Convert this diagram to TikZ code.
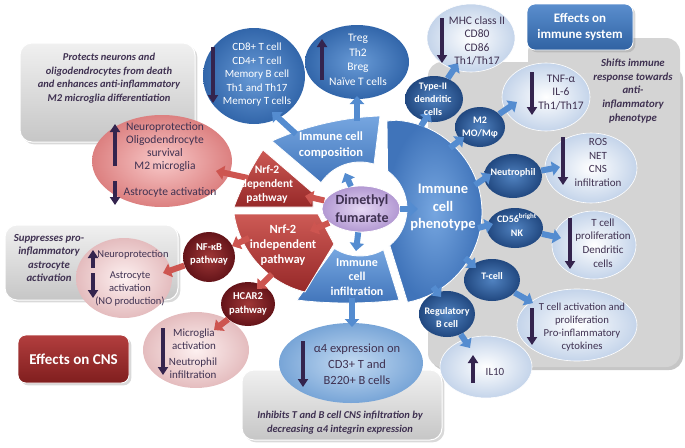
\documentclass[tikz,border=0pt]{standalone}
\usepackage{fontspec}
\setmainfont{Carlito}
\usetikzlibrary{arrows.meta,shapes.geometric,shadows,calc}

\definecolor{txt}{RGB}{63,49,81}
\definecolor{apurple}{RGB}{52,36,78}
\definecolor{blA}{RGB}{118,166,224}
\definecolor{blB}{RGB}{64,116,186}
\definecolor{dbA}{RGB}{80,130,192}
\definecolor{dbB}{RGB}{33,72,128}
\definecolor{mbA}{RGB}{104,154,214}
\definecolor{mbB}{RGB}{50,102,170}
\definecolor{ltB}{RGB}{196,212,234}
\definecolor{a4A}{RGB}{195,218,242}
\definecolor{a4B}{RGB}{120,165,215}
\definecolor{rdA}{RGB}{205,90,85}
\definecolor{rdB}{RGB}{150,40,40}
\definecolor{drA}{RGB}{160,55,55}
\definecolor{drB}{RGB}{100,20,25}
\definecolor{pkA}{RGB}{248,200,200}
\definecolor{pkB}{RGB}{220,128,128}
\definecolor{lpA}{RGB}{253,240,240}
\definecolor{lpB}{RGB}{228,188,190}
\definecolor{dmA}{RGB}{230,216,244}
\definecolor{dmB}{RGB}{178,152,210}
\definecolor{gyA}{RGB}{240,240,240}
\definecolor{gyB}{RGB}{198,198,198}
\definecolor{panelc}{RGB}{212,212,212}
\definecolor{barrc}{RGB}{84,140,208}
\definecolor{rarrc}{RGB}{205,85,80}
\definecolor{cnsA}{RGB}{178,62,62}
\definecolor{cnsB}{RGB}{128,30,30}
\definecolor{imA}{RGB}{90,142,206}
\definecolor{imB}{RGB}{48,98,162}

\newcommand\myfs[2]{\fontsize{#1}{#2}\selectfont}

\begin{document}
\begin{tikzpicture}[x=1pt,y=-1pt,
  every node/.style={inner sep=0pt},
  medell/.style={ellipse, inner color=mbA, outer color=mbB},
  lightell/.style={ellipse, inner color=white, outer color=ltB, draw=white, line width=0.6pt},
  pinkell/.style={ellipse, inner color=pkA, outer color=pkB},
  lpinkell/.style={ellipse, inner color=lpA, outer color=lpB},
  darkcirc/.style={ellipse, inner color=dbA, outer color=dbB},
  redcirc/.style={ellipse, inner color=drA, outer color=drB},
  graybox/.style={rectangle, rounded corners=12pt, top color=gyA, bottom color=gyB, draw=white, line width=1pt, drop shadow={opacity=0.3}},
  wt/.style={text=white, align=center},
  pt/.style={text=txt, align=center},
  barr/.style={draw=barrc, line width=6pt, -{Triangle[length=8pt,width=14pt]}},
  rarr/.style={draw=rarrc, line width=6pt, -{Triangle[length=8pt,width=14pt]}},
  parr/.style={draw=apurple, line width=3.2pt, -{Triangle[length=8pt,width=10pt]}}
]
\useasboundingbox (0,0) rectangle (685,447);

% right gray panel
\fill[gray!45, rounded corners=14pt] (431,66) rectangle (683,370);
\fill[panelc, rounded corners=14pt] (428,62) rectangle (680,367);
\fill[panelc, rounded corners=14pt] (528,38) rectangle (680,120);

% gray boxes
\node[graybox, minimum width=175pt, minimum height=99pt] (g1) at (107.5,92.5) {};
\node[graybox, minimum width=173pt, minimum height=75pt] (g2) at (91.5,262.5) {};
\node[graybox, minimum width=200pt, minimum height=70pt] (g3) at (342,405) {};

% big ellipses
\node[medell, minimum width=102pt, minimum height=96pt] (cd8) at (254,76) {};
\node[medell, minimum width=104pt, minimum height=74pt] (treg) at (357,62) {};
\node[pinkell, minimum width=140pt, minimum height=92pt] (pinkbig) at (162,161) {};
\node[lpinkell, minimum width=96pt, minimum height=80pt] (pinksm) at (124,278) {};
\node[lpinkell, minimum width=106pt, minimum height=76pt] (micro) at (196,350) {};
\node[ellipse, inner color=a4A, outer color=a4B, minimum width=144pt, minimum height=80pt] (a4) at (351,363) {};
\node[lightell, minimum width=88pt, minimum height=68pt] (mhc) at (471,38) {};
\node[lightell, minimum width=88pt, minimum height=68pt] (tnf) at (546,97) {};
\node[lightell, minimum width=92pt, minimum height=70pt] (ros) at (591,168) {};
\node[lightell, minimum width=84pt, minimum height=68pt] (tprol) at (594,245) {};
\node[lightell, minimum width=120pt, minimum height=72pt] (tact) at (577,325) {};
\node[lightell, minimum width=92pt, minimum height=62pt] (il10) at (486,367) {};

% ring sectors
\shade[inner color=blA, outer color=blB, draw=white, line width=0.8pt]
  (387,121) -- plot[domain=-86:79, samples=40] ({390+92*cos(\x)},{212+92*sin(\x)})
  -- (390,246) -- plot[domain=52:-54, samples=30] ({360+47*cos(\x)},{209+47*sin(\x)}) -- cycle;
\shade[top color=blA, bottom color=blB, draw=white, line width=0.8pt]
  (272,141) .. controls (305,126) and (345,117) .. (380,116) -- (374,164)
  -- plot[domain=-72:-146, samples=30] ({360+47*cos(\x)},{209+47*sin(\x)}) -- cycle;
\shade[top color=blA, bottom color=blB, draw=white, line width=0.8pt]
  plot[domain=123:60, samples=30] ({360+47*cos(\x)},{209+47*sin(\x)})
  -- (399,300) .. controls (366,304) and (328,304) .. (297,300) -- cycle;
\shade[top color=rdA, bottom color=rdB, draw=white, line width=0.8pt]
  (263,150) -- (313,193) -- (313,207) -- (234,207) .. controls (242,186) and (252,166) .. (263,150) -- cycle;
\shade[top color=rdA, bottom color=rdB, draw=white, line width=0.8pt]
  (234,214) -- (318,214) -- (334,244) -- (305,292) .. controls (268,283) and (240,252) .. (234,214) -- cycle;

% small circles
\node[redcirc, minimum width=52pt, minimum height=50pt] (nfkb) at (209,257) {};
\node[redcirc, minimum width=54pt, minimum height=44pt] (hcar) at (248,304) {};
\node[darkcirc, minimum width=58pt, minimum height=46pt] (type2) at (434,99) {};
\node[darkcirc, minimum width=50pt, minimum height=40pt] (m2) at (480,127) {};
\node[darkcirc, minimum width=58pt, minimum height=44pt] (neut) at (513,176) {};
\node[darkcirc, minimum width=56pt, minimum height=40pt] (cd56) at (515,228) {};
\node[darkcirc, minimum width=56pt, minimum height=42pt] (tcell) at (492,280) {};
\node[darkcirc, minimum width=56pt, minimum height=46pt] (regb) at (447,314) {};

% DMF
\node[ellipse, inner color=dmA, outer color=dmB, draw=white, line width=0.8pt, minimum width=78pt, minimum height=46pt] (dmf) at (361,209) {};

% connector coordinates
\coordinate (c1s) at (296,134); \coordinate (c1e) at (272,112);
\coordinate (c2s) at (357,121); \coordinate (c2e) at (357,96);
\coordinate (dup) at (345,173);
\coordinate (dright) at (418,209);
\coordinate (ddown) at (356,251);
\coordinate (i1s) at (352,298); \coordinate (i1e) at (352,327);
\coordinate (p1s) at (421,126); \coordinate (p1e) at (430,112);
\coordinate (t2e) at (458,63);
\coordinate (p2s) at (450,148); \coordinate (p2e) at (464,137);
\coordinate (m2e) at (517,102);
\coordinate (p3s) at (475,185); \coordinate (p3e) at (491,174);
\coordinate (ne) at (560,167);
\coordinate (p4s) at (478,228); \coordinate (p4e) at (493,224);
\coordinate (cde) at (561,238);
\coordinate (p5s) at (465,258); \coordinate (p5e) at (476,268);
\coordinate (tce) at (533,303);
\coordinate (p6s) at (433,287); \coordinate (p6e) at (441,297);
\coordinate (rbe) at (470,348);
\coordinate (dleft) at (305,196);
\coordinate (dll) at (310,231);
\coordinate (r1s) at (248,178); \coordinate (r1e) at (216,171);
\coordinate (r2s) at (249,238); \coordinate (r2e) at (232,246);
\coordinate (r3s) at (272,274); \coordinate (r3e) at (257,289);
\coordinate (nfe) at (163,273);
\coordinate (hce) at (214,330);

% blue connectors
\draw[barr] (c1s) -- (c1e);
\draw[barr] (c2s) -- (c2e);
\draw[barr] (dmf) -- (dup);
\draw[barr] (dmf) -- (dright);
\draw[barr] (dmf) -- (ddown);
\draw[barr] (i1s) -- (i1e);
\draw[barr] (p1s) -- (p1e);
\draw[barr] (type2) -- (t2e);
\draw[barr] (p2s) -- (p2e);
\draw[barr] (m2) -- (m2e);
\draw[barr] (p3s) -- (p3e);
\draw[barr] (neut) -- (ne);
\draw[barr] (p4s) -- (p4e);
\draw[barr] (cd56) -- (cde);
\draw[barr] (p5s) -- (p5e);
\draw[barr] (tcell) -- (tce);
\draw[barr] (p6s) -- (p6e);
\draw[barr] (regb) -- (rbe);
% red connectors
\draw[rarr] (dmf) -- (dleft);
\draw[rarr] (dmf) -- (dll);
\draw[rarr] (r1s) -- (r1e);
\draw[rarr] (r2s) -- (r2e);
\draw[rarr] (r3s) -- (r3e);
\draw[rarr] (nfkb) -- (nfe);
\draw[rarr] (hcar) -- (hce);

% purple arrows
\draw[parr] (213,47) -- (213,103);
\draw[parr] (322,80) -- (322,39);
\draw[parr] (115,166) -- (115,124);
\draw[parr] (115,181) -- (115,205);
\draw[parr] (93,268) -- (93,250);
\draw[parr] (93,273) -- (93,298);
\draw[parr] (163,328) -- (163,375);
\draw[parr] (303,341) -- (303,387);
\draw[parr] (442,18) -- (442,63);
\draw[parr] (532,72) -- (532,115);
\draw[parr] (563,137) -- (563,185);
\draw[parr] (570,218) -- (570,269);
\draw[parr] (532,308) -- (532,345);
\draw[parr] (473,383) -- (473,355);

% labeled boxes
\node[rectangle, rounded corners=8pt, top color=cnsA, bottom color=cnsB, draw=white, line width=0.8pt, drop shadow={opacity=0.3}, minimum width=111pt, minimum height=48pt, wt, font=\bfseries\myfs{15}{18}] (cns) at (73.5,359) {Effects on CNS};
\node[rectangle, rounded corners=8pt, top color=imA, bottom color=imB, draw=white, line width=0.8pt, drop shadow={opacity=0.3}, minimum width=106pt, minimum height=46pt, wt, font=\bfseries\myfs{13}{16}] (imm) at (580,27) {Effects on\\immune system};

% texts
\node[pt, font=\bfseries\itshape\myfs{10.5}{13.6}] (g1t) at (109,78) {Protects neurons and\\oligodendrocytes from death\\and enhances anti-inflammatory\\M2 microglia differentiation};
\node[pt, font=\bfseries\itshape\myfs{10.8}{13.6}] (g2t) at (49,258) {Suppresses pro-\\inflammatory\\astrocyte\\activation};
\node[pt, font=\bfseries\itshape\myfs{10.5}{14}] (g3t) at (340,423) {Inhibits T and B cell CNS infiltration by\\decreasing α4 integrin expression};
\node[pt, font=\bfseries\itshape\myfs{10.8}{13.7}] (sht) at (633,91) {Shifts immune\\response towards\\anti-\\inflammatory\\phenotype};

\node[wt, font=\myfs{11}{13.5}] (cd8t) at (257,75) {CD8+ T cell\\CD4+ T cell\\Memory B cell\\Th1 and Th17\\Memory T cells};
\node[wt, font=\myfs{11.5}{14.5}] (tregt) at (358,60) {Treg\\Th2\\Breg\\Naïve T cells};
\node[pt, font=\myfs{11.5}{13}] (pbt) at (165,147.5) {Neuroprotection\\Oligodendrocyte\\survival\\M2 microglia};
\node[pt, font=\myfs{11.5}{13}] (pbt2) at (170,192) {Astrocyte activation};
\node[pt, font=\myfs{10.5}{13}] (pst1) at (133,255) {Neuroprotection};
\node[pt, font=\myfs{10.5}{13}] (pst2) at (130,289) {Astrocyte\\activation\\(NO production)};
\node[pt, font=\myfs{11}{13}] (mit1) at (194,339.5) {Microglia\\activation};
\node[pt, font=\myfs{11}{13}] (mit2) at (193,368.5) {Neutrophil\\infiltration};
\node[wt, font=\bfseries\myfs{10.5}{13}] (nfkbt) at (209,254.5) {NF-κB\\pathway};
\node[wt, font=\bfseries\myfs{10.5}{14}] (hcart) at (248,304) {HCAR2\\pathway};
\node[pt, font=\myfs{12.5}{16}] (a4t) at (357,364) {α4 expression on\\CD3+ T and\\B220+ B cells};

\node[wt, font=\bfseries\myfs{12.5}{16}] (compt) at (331,145) {Immune cell\\composition};
\node[wt, font=\bfseries\myfs{11.5}{14}] (nrf1t) at (267,184) {Nrf-2\\dependent\\pathway};
\node[wt, font=\bfseries\myfs{12.5}{15}] (nrf2t) at (283,245) {Nrf-2\\independent\\pathway};
\node[wt, font=\bfseries\myfs{12}{14.5}] (inft) at (357,277) {Immune\\cell\\infiltration};
\node[wt, font=\bfseries\myfs{14.5}{17.5}] (phent) at (443,207.5) {Immune\\cell\\phenotype};
\node[pt, font=\bfseries\myfs{14}{18}] (dmft) at (362,209) {Dimethyl\\fumarate};

\node[pt, font=\myfs{11.5}{13.5}] (mhct) at (477,41) {MHC class II\\CD80\\CD86\\Th1/Th17};
\node[pt, font=\myfs{11.5}{13.5}] (tnft) at (561,92.5) {TNF-α\\IL-6\\Th1/Th17};
\node[pt, font=\myfs{11}{13.7}] (rost) at (598,162.5) {ROS\\NET\\CNS\\infiltration};
\node[pt, font=\myfs{11}{13.8}] (tprolt) at (603,243) {T cell\\proliferation\\Dendritic\\cells};
\node[pt, font=\myfs{10.7}{13}] (tactt) at (582,327.5) {T cell activation and\\proliferation\\Pro-inflammatory\\cytokines};
\node[pt, font=\myfs{11}{13}] (il10t) at (495,372) {IL10};

\node[wt, font=\bfseries\myfs{10}{13}] (type2t) at (433,99) {Type-II\\dendritic\\cells};
\node[wt, font=\bfseries\myfs{10}{13}] (m2t) at (480,127.5) {M2\\MO/Mφ};
\node[wt, font=\bfseries\myfs{10}{13}] (neutt) at (513,173) {Neutrophil};
\node[wt, font=\bfseries\myfs{10}{14}] (cd56t) at (517,225) {CD56\textsuperscript{bright}\\NK};
\node[wt, font=\bfseries\myfs{10}{13}] (tcellt) at (492,276) {T-cell};
\node[wt, font=\bfseries\myfs{10}{13}] (regbt) at (447,317.5) {Regulatory\\B cell};
\end{tikzpicture}
\end{document}
